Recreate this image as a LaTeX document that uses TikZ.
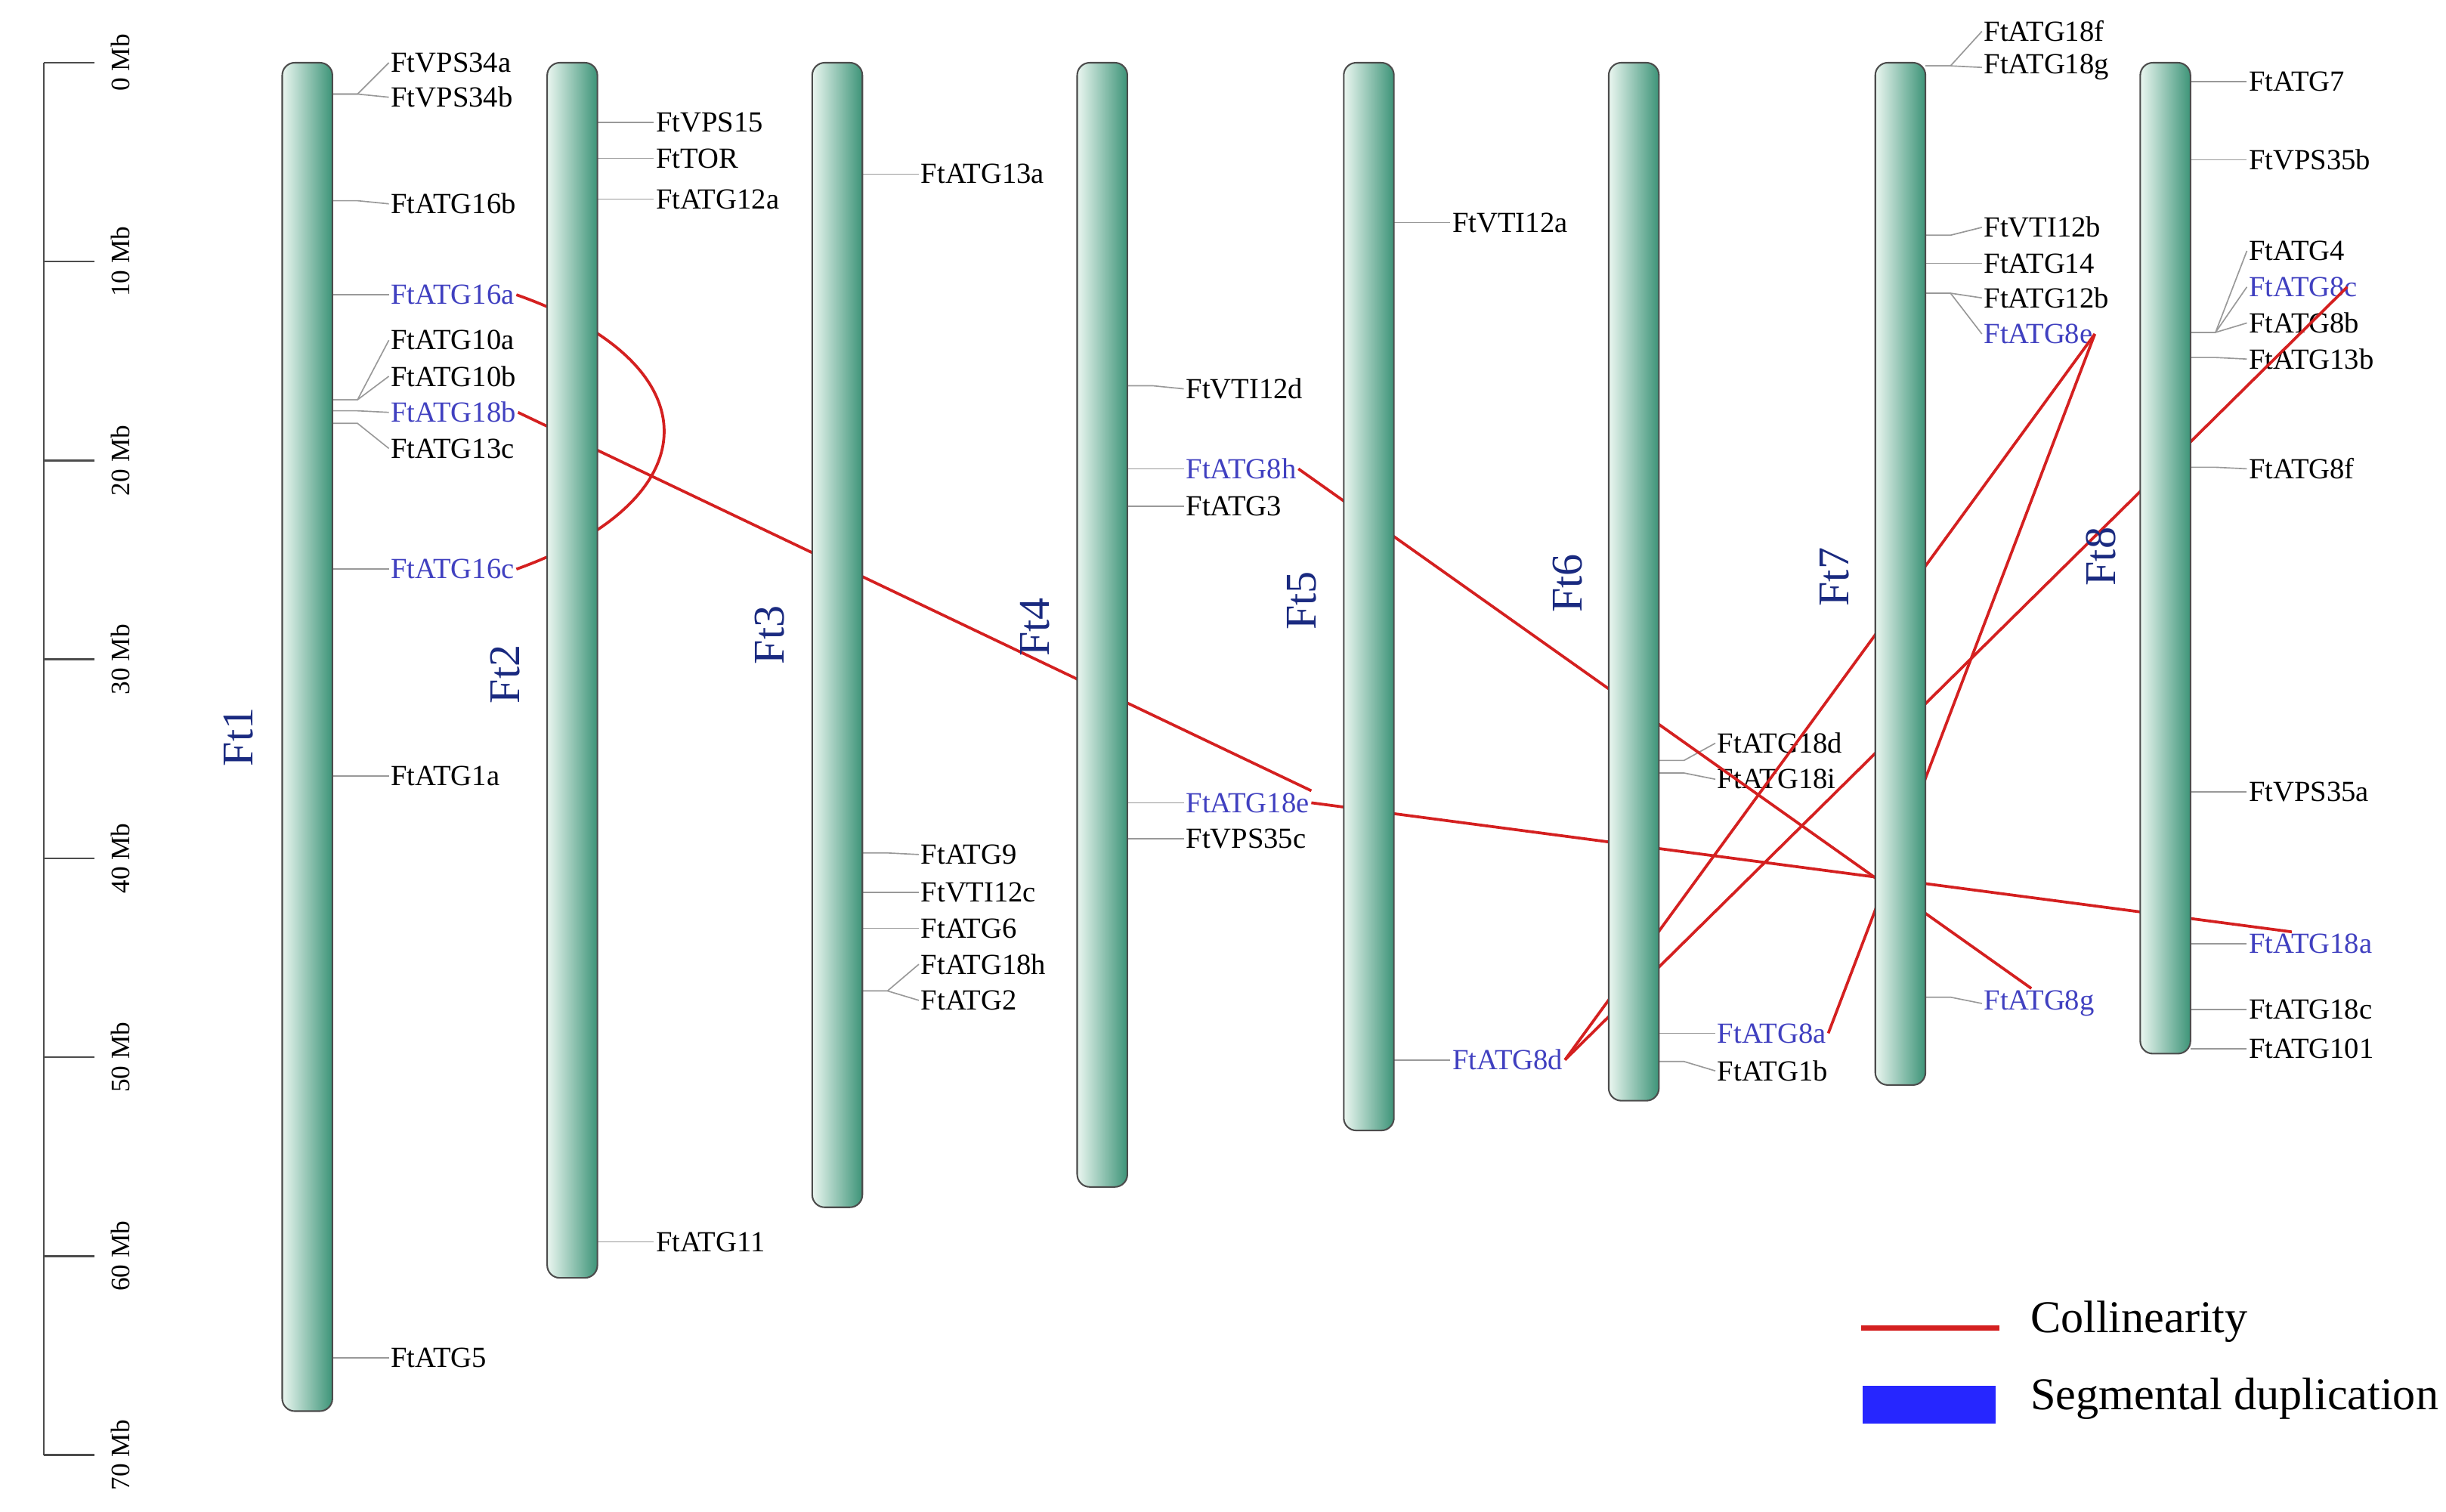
\documentclass[tikz,border=0pt]{standalone}
\usepackage{fontspec}
\setmainfont{Liberation Serif}
\usetikzlibrary{calc}
\begin{document}
\begin{tikzpicture}[x=0.5pt,y=-0.5pt]
\definecolor{gblue}{HTML}{4040C0}
\definecolor{cblue}{HTML}{1A2A80}
\definecolor{cred}{HTML}{D42020}
\definecolor{cdark}{HTML}{3D9478}
\definecolor{clight}{HTML}{EAF6F0}
\tikzset{
  glabel/.style={anchor=west,inner sep=0.5pt,font=\fontsize{9.3pt}{10pt}\selectfont},
  leader/.style={draw=gray!80,line width=0.4pt},
  coll/.style={draw=cred,line width=0.9pt},
  chrom/.style={draw=black!70,line width=0.5pt,rounded corners=4pt,left color=clight,right color=cdark},
  clabel/.style={text=cblue,rotate=90,font=\fontsize{14pt}{14pt}\selectfont},
  scalelabel/.style={rotate=90,font=\fontsize{8.5pt}{9pt}\selectfont},
  legtext/.style={anchor=west,font=\fontsize{14.5pt}{15pt}\selectfont}
}
\useasboundingbox (0,0) rectangle (1560,964);
\newcommand\gn[6]{%
  \node[glabel,text=#6] (#1) at (#2+36,#4) {#5};
  \draw[leader] (#2,#3) -- (#2+16,#3) -- (#1.west);}
% scale
\draw[gray!60!black,line width=0.6pt] (28,40) coordinate (s0) -- (28,928) coordinate (s70);
\foreach \i in {0,...,7}{
  \draw[gray!60!black,line width=0.6pt] (28,40+126.86*\i) -- (60,40+126.86*\i);
  \pgfmathtruncatemacro\mb{10*\i}
  \node[scalelabel] (sc\i) at (77,40+126.86*\i) {\mb\ Mb};
}
% Ft1
\gn{vps34a}{212}{60}{40}{FtVPS34a}{black}
\gn{vps34b}{212}{60}{62}{FtVPS34b}{black}
\gn{a16b}{212}{128}{130}{FtATG16b}{black}
\gn{a16a}{212}{188}{188}{FtATG16a}{gblue}
\gn{a10a}{212}{255}{217}{FtATG10a}{black}
\gn{a10b}{212}{255}{240}{FtATG10b}{black}
\gn{a18b}{212}{262}{263}{FtATG18b}{gblue}
\gn{a13c}{212}{270}{286}{FtATG13c}{black}
\gn{a16c}{212}{363}{363}{FtATG16c}{gblue}
\gn{a1a}{212}{495}{495}{FtATG1a}{black}
\gn{a5}{212}{866}{866}{FtATG5}{black}
% Ft2
\gn{vps15}{381}{78}{78}{FtVPS15}{black}
\gn{tor}{381}{101}{101}{FtTOR}{black}
\gn{a12a}{381}{127}{127}{FtATG12a}{black}
\gn{a11}{381}{792}{792}{FtATG11}{black}
% Ft3
\gn{a13a}{550}{111}{111}{FtATG13a}{black}
\gn{a9}{550}{544}{545}{FtATG9}{black}
\gn{vti12c}{550}{569}{569}{FtVTI12c}{black}
\gn{a6}{550}{592}{592}{FtATG6}{black}
\gn{a18h}{550}{632}{615}{FtATG18h}{black}
\gn{a2}{550}{632}{638}{FtATG2}{black}
% Ft4
\gn{vti12d}{719}{246}{248}{FtVTI12d}{black}
\gn{a8h}{719}{299}{299}{FtATG8h}{gblue}
\gn{a3}{719}{323}{323}{FtATG3}{black}
\gn{a18e}{719}{512}{512}{FtATG18e}{gblue}
\gn{vps35c}{719}{535}{535}{FtVPS35c}{black}
% Ft5
\gn{vti12a}{889}{142}{142}{FtVTI12a}{black}
\gn{a8d}{889}{676}{676}{FtATG8d}{gblue}
% Ft6
\gn{a18d}{1058}{485}{474}{FtATG18d}{black}
\gn{a18i}{1058}{493}{497}{FtATG18i}{black}
\gn{a8a}{1058}{659}{659}{FtATG8a}{gblue}
\gn{a1b}{1058}{677}{683}{FtATG1b}{black}
% Ft7
\gn{a18f}{1228}{42}{20}{FtATG18f}{black}
\gn{a18g}{1228}{42}{43}{FtATG18g}{black}
\gn{vti12b}{1228}{150}{145}{FtVTI12b}{black}
\gn{a14}{1228}{168}{168}{FtATG14}{black}
\gn{a12b}{1228}{187}{190}{FtATG12b}{black}
\gn{a8e}{1228}{187}{213}{FtATG8e}{gblue}
\gn{a8g}{1228}{636}{640}{FtATG8g}{gblue}
% Ft8
\gn{a7}{1397}{52}{52}{FtATG7}{black}
\gn{vps35b}{1397}{102}{102}{FtVPS35b}{black}
\gn{a4}{1397}{212}{160}{FtATG4}{black}
\gn{a8c}{1397}{212}{183}{FtATG8c}{gblue}
\gn{a8b}{1397}{212}{206}{FtATG8b}{black}
\gn{a13b}{1397}{228}{229}{FtATG13b}{black}
\gn{a8f}{1397}{298}{299}{FtATG8f}{black}
\gn{vps35a}{1397}{505}{505}{FtVPS35a}{black}
\gn{a18a}{1397}{602}{602}{FtATG18a}{gblue}
\gn{a18c}{1397}{644}{644}{FtATG18c}{black}
\gn{a101}{1397}{669}{669}{FtATG101}{black}
% collinearity lines
\draw[coll] (a16a.east) .. controls (455,232) and (455,318) .. (a16c.east);
\draw[coll] (a18b.east) -- (a18e.north east);
\draw[coll] (a18e.east) -- ($(a18a.north)+(-12,0)$);
\draw[coll] (a8h.east) -- ($(a8g.north)+(-5,0)$);
\draw[coll] (a8e.east) -- (a8d.east);
\draw[coll] (a8e.east) -- (a8a.east);
\draw[coll] (a8d.east) -- ($(a8c.east)+(-8,0)$);
% chromosomes
\draw[chrom] (180,40) rectangle (212,900);
\draw[chrom] (349,40) rectangle (381,815);
\draw[chrom] (518,40) rectangle (550,770);
\draw[chrom] (687,40) rectangle (719,757);
\draw[chrom] (857,40) rectangle (889,721);
\draw[chrom] (1026,40) rectangle (1058,702);
\draw[chrom] (1196,40) rectangle (1228,692);
\draw[chrom] (1365,40) rectangle (1397,672);
\node[clabel] (ft1) at (152,470) {Ft1};
\node[clabel] (ft2) at (322,430) {Ft2};
\node[clabel] (ft3) at (491,405) {Ft3};
\node[clabel] (ft4) at (660,400) {Ft4};
\node[clabel] (ft5) at (830,383) {Ft5};
\node[clabel] (ft6) at (1000,372) {Ft6};
\node[clabel] (ft7) at (1170,368) {Ft7};
\node[clabel] (ft8) at (1340,355) {Ft8};
% legend
\draw[cred,line width=1.6pt] (1187,847) coordinate (l1) -- (1275,847) coordinate (l2);
\node[legtext] (lcol) at (1288,843) {Collinearity};
\fill[blue!85!white] (1188,884) rectangle (1273,908);
\node[legtext] (lseg) at (1288,892) {Segmental duplication};
\end{tikzpicture}
\end{document}
